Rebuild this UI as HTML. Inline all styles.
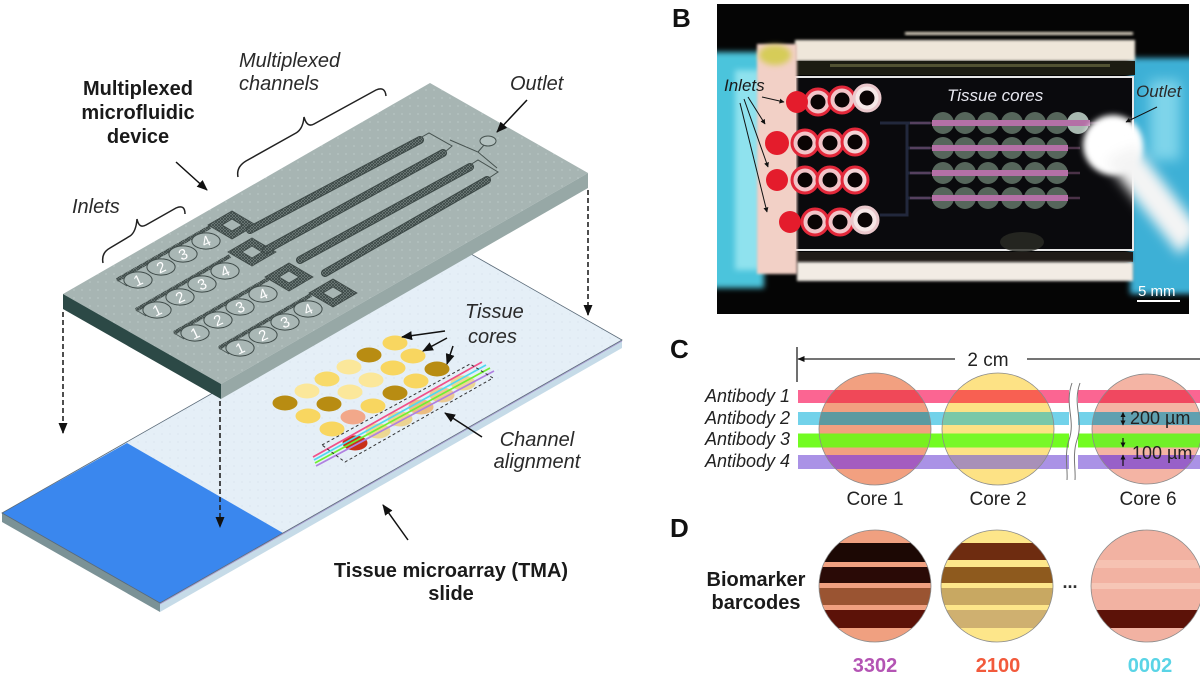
<!DOCTYPE html>
<html><head><meta charset="utf-8">
<style>
html,body{margin:0;padding:0;background:#fff;}
svg{display:block;}
text{font-family:"Liberation Sans",Arial,sans-serif;}
</style></head><body>
<svg width="1200" height="675" viewBox="0 0 1200 675" xmlns="http://www.w3.org/2000/svg">
<defs>
<marker id="ah" markerUnits="userSpaceOnUse" markerWidth="11" markerHeight="9" refX="10" refY="4.5" orient="auto"><path d="M0,0 L11,4.5 L0,9 z" fill="#111"/></marker>
<marker id="ahs" markerUnits="userSpaceOnUse" markerWidth="7" markerHeight="6" refX="6.5" refY="3" orient="auto"><path d="M0,0 L7,3 L0,6 z" fill="#111"/></marker>
<marker id="aht" markerUnits="userSpaceOnUse" markerWidth="5" markerHeight="5" refX="4.5" refY="2.5" orient="auto"><path d="M0,0 L5,2.5 L0,5 z" fill="#111"/></marker>
<pattern id="hx" patternUnits="userSpaceOnUse" width="3" height="3"><rect width="3" height="3" fill="#7f8c8a"/><path d="M0,0L3,3M3,0L0,3" stroke="#3a4644" stroke-width="0.8"/></pattern>
<pattern id="dots" patternUnits="userSpaceOnUse" width="8" height="8"><circle cx="2" cy="2" r="0.5" fill="#d8e4e4"/></pattern>
<pattern id="sdots" patternUnits="userSpaceOnUse" width="8" height="8"><circle cx="2" cy="2" r="0.5" fill="#c8d6e2"/></pattern>
<filter id="b1" x="-50%" y="-50%" width="200%" height="200%"><feGaussianBlur stdDeviation="1.2"/></filter>
<filter id="b3" x="-50%" y="-50%" width="200%" height="200%"><feGaussianBlur stdDeviation="3"/></filter>
<filter id="b6" x="-50%" y="-50%" width="200%" height="200%"><feGaussianBlur stdDeviation="6"/></filter>
<clipPath id="bclip"><rect x="717" y="4" width="472" height="310"/></clipPath>
<clipPath id="cc1"><circle cx="875" cy="429" r="56"/></clipPath>
<clipPath id="cc2"><circle cx="998" cy="429" r="56"/></clipPath>
<clipPath id="cc6"><circle cx="1147" cy="429" r="55"/></clipPath>
<clipPath id="dc1"><circle cx="875" cy="586" r="56"/></clipPath>
<clipPath id="dc2"><circle cx="997" cy="586" r="56"/></clipPath>
<clipPath id="dc3"><circle cx="1147" cy="586" r="56"/></clipPath>
</defs>

<rect width="1200" height="675" fill="#fff"/>

<!-- ================= PANEL A ================= -->
<!-- Slide -->
<polygon points="2,513 464,250 622,340 160,603" fill="#e5eff7"/>
<polygon points="2,513 464,250 622,340 160,603" fill="url(#sdots)"/>
<polygon points="2,513 127,443 283,533 160,603" fill="#3a87ee"/>
<polygon points="2,513 160,603 160,612 2,522" fill="#7b9296"/>
<polygon points="160,603 622,340 622,348 160,612" fill="#c6dbe8"/>
<line x1="160" y1="604" x2="622" y2="341" stroke="#a99ad0" stroke-width="0.8"/>
<polygon points="2,513 464,250 622,340 160,603" fill="none" stroke="#5a6a78" stroke-width="0.8"/>

<!-- tissue cores -->
<g>
<ellipse cx="395" cy="343" rx="12.5" ry="7.5" fill="#f8d660"/>
<ellipse cx="369" cy="355" rx="12.5" ry="7.5" fill="#b88c12"/>
<ellipse cx="413" cy="356" rx="12.5" ry="7.5" fill="#f8d660"/>
<ellipse cx="349" cy="367" rx="12.5" ry="7.5" fill="#fbe79a"/>
<ellipse cx="393" cy="368" rx="12.5" ry="7.5" fill="#f8d660"/>
<ellipse cx="437" cy="369" rx="12.5" ry="7.5" fill="#b88c12"/>
<ellipse cx="327" cy="379" rx="12.5" ry="7.5" fill="#f8da6a"/>
<ellipse cx="371" cy="380" rx="12.5" ry="7.5" fill="#fbe79a"/>
<ellipse cx="416" cy="381" rx="12.5" ry="7.5" fill="#f8d660"/>
<ellipse cx="307" cy="391" rx="12.5" ry="7.5" fill="#fbe79a"/>
<ellipse cx="350" cy="392" rx="12.5" ry="7.5" fill="#fbe79a"/>
<ellipse cx="395" cy="393" rx="12.5" ry="7.5" fill="#b88c12"/>
<ellipse cx="285" cy="403" rx="12.5" ry="7.5" fill="#b88c12"/>
<ellipse cx="329" cy="404" rx="12.5" ry="7.5" fill="#b88c12"/>
<ellipse cx="373" cy="406" rx="12.5" ry="7.5" fill="#f8d660"/>
<ellipse cx="308" cy="416" rx="12.5" ry="7.5" fill="#f8d660"/>
<ellipse cx="353" cy="417" rx="12.5" ry="7.5" fill="#f2a88a"/>
<ellipse cx="332" cy="429" rx="12.5" ry="7.5" fill="#f8d660"/>
<ellipse cx="378" cy="431" rx="12.5" ry="7.5" fill="#f0c850" opacity="0.6"/>
<ellipse cx="400" cy="419" rx="12.5" ry="7.5" fill="#f0c050" opacity="0.6"/>
<ellipse cx="421" cy="407" rx="12.5" ry="7.5" fill="#f0a850" opacity="0.7"/>
<ellipse cx="442" cy="395" rx="12.5" ry="7.5" fill="#f0b050" opacity="0.6"/>
<ellipse cx="463" cy="383" rx="12.5" ry="7.5" fill="#f0c850" opacity="0.6"/>
<ellipse cx="355" cy="443" rx="12.5" ry="7.5" fill="#c83018"/>
</g>
<!-- channel stripes -->
<g stroke-width="1.7">
<line x1="313" y1="457" x2="482" y2="362" stroke="#f0508a"/>
<line x1="314" y1="460" x2="486" y2="365" stroke="#50d8f0"/>
<line x1="315" y1="463" x2="490" y2="368" stroke="#70f030"/>
<line x1="316" y1="466" x2="494" y2="371" stroke="#b080e0"/>
</g>
<polygon points="322,445 470,364 493,378 345,462" fill="none" stroke="#333" stroke-width="1" stroke-dasharray="3,2.5"/>

<!-- Device -->
<polygon points="63,294 430,83 588,173 221,384" fill="#a7b5b3"/>
<polygon points="63,294 430,83 588,173 221,384" fill="url(#dots)"/>
<polygon points="63,294 221,384 221,399 63,309" fill="#2c4946"/>
<polygon points="221,384 588,173 588,188 221,399" fill="#97a8a6"/>

<!-- row channels behind inlets -->
<g stroke="url(#hx)" stroke-width="4" fill="none">
<line x1="117" y1="280" x2="210" y2="227"/>
<line x1="136" y1="310" x2="230" y2="256"/>
<line x1="174" y1="333" x2="268" y2="279"/>
<line x1="219" y1="348" x2="311" y2="295"/>
</g>
<g stroke="#4b5755" stroke-width="0.8" fill="none">
<polyline points="127,286 117,280 210,227"/>
<polyline points="146,316 136,310 230,256"/>
<polyline points="184,339 174,333 268,279"/>
<polyline points="229,354 219,348 311,295"/>
</g>

<!-- mixers -->
<g stroke="#3d4846" stroke-width="0.8">
<polygon points="208,225 232,211 256,225 232,239" fill="url(#hx)"/>
<polygon points="222,225 232,219 242,225 232,231" fill="#a7b5b3"/>
<polygon points="228,252 252,238 276,252 252,266" fill="url(#hx)"/>
<polygon points="242,252 252,246 262,252 252,258" fill="#a7b5b3"/>
<polygon points="265,277 289,263 313,277 289,291" fill="url(#hx)"/>
<polygon points="279,277 289,271 299,277 289,283" fill="#a7b5b3"/>
<polygon points="309,293 333,279 357,293 333,307" fill="url(#hx)"/>
<polygon points="323,293 333,287 343,293 333,299" fill="#a7b5b3"/>
</g>

<!-- long channels -->
<g fill="none" stroke-linecap="round">
<g stroke="#3c4846" stroke-width="8">
<line x1="250" y1="230" x2="420" y2="140"/>
<line x1="266" y1="250" x2="443" y2="153"/>
<line x1="300" y1="260" x2="470" y2="167"/>
<line x1="325" y1="273" x2="487" y2="180"/>
</g>
<g stroke="url(#hx)" stroke-width="6">
<line x1="250" y1="230" x2="420" y2="140"/>
<line x1="266" y1="250" x2="443" y2="153"/>
<line x1="300" y1="260" x2="470" y2="167"/>
<line x1="325" y1="273" x2="487" y2="180"/>
</g>
</g>
<!-- manifold + outlet -->
<g fill="none" stroke="#46524f" stroke-width="1">
<polyline points="420,138 429,133 452,146 445,152"/>
<polyline points="470,165 478,160 498,172 489,178"/>
<polyline points="450,140 478,152 497,168"/>
<polyline points="478,152 484,145"/>
<ellipse cx="488" cy="141" rx="8" ry="5" fill="#b4c2c0"/>
</g>

<!-- inlets -->
<g fill="#a9b7b5" stroke="#3f4b49" stroke-width="1">
<g transform="matrix(0.868,-0.499,0.868,0.494,138,280)"><circle r="11.5" vector-effect="non-scaling-stroke"/></g>
<g transform="matrix(0.868,-0.499,0.868,0.494,161,267)"><circle r="11.5" vector-effect="non-scaling-stroke"/></g>
<g transform="matrix(0.868,-0.499,0.868,0.494,183,254)"><circle r="11.5" vector-effect="non-scaling-stroke"/></g>
<g transform="matrix(0.868,-0.499,0.868,0.494,206,241)"><circle r="11.5" vector-effect="non-scaling-stroke"/></g>
<g transform="matrix(0.868,-0.499,0.868,0.494,157,310)"><circle r="11.5" vector-effect="non-scaling-stroke"/></g>
<g transform="matrix(0.868,-0.499,0.868,0.494,180,297)"><circle r="11.5" vector-effect="non-scaling-stroke"/></g>
<g transform="matrix(0.868,-0.499,0.868,0.494,202,284)"><circle r="11.5" vector-effect="non-scaling-stroke"/></g>
<g transform="matrix(0.868,-0.499,0.868,0.494,225,271)"><circle r="11.5" vector-effect="non-scaling-stroke"/></g>
<g transform="matrix(0.868,-0.499,0.868,0.494,195,333)"><circle r="11.5" vector-effect="non-scaling-stroke"/></g>
<g transform="matrix(0.868,-0.499,0.868,0.494,218,320)"><circle r="11.5" vector-effect="non-scaling-stroke"/></g>
<g transform="matrix(0.868,-0.499,0.868,0.494,240,307)"><circle r="11.5" vector-effect="non-scaling-stroke"/></g>
<g transform="matrix(0.868,-0.499,0.868,0.494,263,294)"><circle r="11.5" vector-effect="non-scaling-stroke"/></g>
<g transform="matrix(0.868,-0.499,0.868,0.494,240,348)"><circle r="11.5" vector-effect="non-scaling-stroke"/></g>
<g transform="matrix(0.868,-0.499,0.868,0.494,263,335)"><circle r="11.5" vector-effect="non-scaling-stroke"/></g>
<g transform="matrix(0.868,-0.499,0.868,0.494,285,322)"><circle r="11.5" vector-effect="non-scaling-stroke"/></g>
<g transform="matrix(0.868,-0.499,0.868,0.494,308,309)"><circle r="11.5" vector-effect="non-scaling-stroke"/></g>
</g>
<g fill="#ffffff" font-size="15" text-anchor="middle">
<text transform="translate(138,280) rotate(-25)" y="5.5">1</text>
<text transform="translate(161,267) rotate(-25)" y="5.5">2</text>
<text transform="translate(183,254) rotate(-25)" y="5.5">3</text>
<text transform="translate(206,241) rotate(-25)" y="5.5">4</text>
<text transform="translate(157,310) rotate(-25)" y="5.5">1</text>
<text transform="translate(180,297) rotate(-25)" y="5.5">2</text>
<text transform="translate(202,284) rotate(-25)" y="5.5">3</text>
<text transform="translate(225,271) rotate(-25)" y="5.5">4</text>
<text transform="translate(195,333) rotate(-25)" y="5.5">1</text>
<text transform="translate(218,320) rotate(-25)" y="5.5">2</text>
<text transform="translate(240,307) rotate(-25)" y="5.5">3</text>
<text transform="translate(263,294) rotate(-25)" y="5.5">4</text>
<text transform="translate(240,348) rotate(-25)" y="5.5">1</text>
<text transform="translate(263,335) rotate(-25)" y="5.5">2</text>
<text transform="translate(285,322) rotate(-25)" y="5.5">3</text>
<text transform="translate(308,309) rotate(-25)" y="5.5">4</text>
</g>

<!-- dashed arrows -->
<g stroke="#222" stroke-width="1.6" stroke-dasharray="5,3" fill="none">
<line x1="63" y1="312" x2="63" y2="433" marker-end="url(#ah)"/>
<line x1="220" y1="401" x2="220" y2="527" marker-end="url(#ah)"/>
<line x1="588" y1="190" x2="588" y2="315" marker-end="url(#ah)"/>
</g>

<!-- braces -->
<g fill="none" stroke="#222" stroke-width="1.5">
<path d="M238,177 Q236,167 246,161 L296,133 Q303,129 304,117 Q307,128 314,124 L376,90 Q385,86 386,96"/>
<path d="M103,263 Q101,253 110,248 L130,236 Q136,232 137,219 Q139,229 146,225 L176,208 Q185,204 185,214"/>
</g>

<!-- arrows -->
<g stroke="#111" stroke-width="1.5" fill="none">
<line x1="176" y1="162" x2="207" y2="190" marker-end="url(#ah)"/>
<line x1="527" y1="100" x2="497" y2="132" marker-end="url(#ah)"/>
<line x1="445" y1="331" x2="402" y2="337" marker-end="url(#ah)"/>
<line x1="447" y1="338" x2="423" y2="351" marker-end="url(#ah)"/>
<line x1="453" y1="346" x2="447" y2="364" marker-end="url(#ah)"/>
<line x1="482" y1="437" x2="445" y2="413" marker-end="url(#ah)"/>
<line x1="408" y1="540" x2="383" y2="505" marker-end="url(#ah)"/>
</g>

<!-- labels panel A -->
<g fill="#1a1a1a" font-weight="bold" font-size="20" text-anchor="middle">
<text x="138" y="95">Multiplexed</text>
<text x="138" y="119">microfluidic</text>
<text x="138" y="143">device</text>
<text x="451" y="577">Tissue microarray (TMA)</text>
<text x="451" y="600">slide</text>
</g>
<g fill="#2a2a2a" font-style="italic" font-size="20">
<text x="239" y="67">Multiplexed</text>
<text x="239" y="90">channels</text>
<text x="510" y="90">Outlet</text>
<text x="72" y="213">Inlets</text>
<text x="465" y="318">Tissue</text>
<text x="468" y="343">cores</text>
<text x="537" y="446" text-anchor="middle">Channel</text>
<text x="537" y="468" text-anchor="middle">alignment</text>
</g>

<!-- ================= PANEL B ================= -->
<text x="672" y="27" font-size="26" font-weight="bold" fill="#111">B</text>
<g clip-path="url(#bclip)">
<rect x="717" y="4" width="472" height="310" fill="#050505"/>
<!-- cyan glows -->
<rect x="700" y="52" width="64" height="236" fill="#4cc4dc" filter="url(#b3)"/>
<rect x="735" y="70" width="25" height="200" fill="#8fe2ee" filter="url(#b3)"/>
<rect x="1130" y="58" width="75" height="236" fill="#3eb0d6" filter="url(#b3)"/>
<rect x="1150" y="80" width="30" height="80" fill="#7ed4ea" filter="url(#b6)"/>
<!-- top rail -->
<rect x="905" y="32" width="228" height="3" fill="#d8d0c0" filter="url(#b1)"/>
<rect x="795" y="40" width="340" height="21" fill="#efe7da" filter="url(#b1)"/>
<rect x="795" y="61" width="340" height="14" fill="#1c1c12"/>
<rect x="830" y="64" width="280" height="3" fill="#6a6a40" opacity="0.7"/>
<!-- chip interior -->
<rect x="795" y="77" width="338" height="173" fill="#0a0a0d" stroke="#e8e8e8" stroke-width="2"/>
<!-- bottom rail -->
<rect x="797" y="252" width="336" height="10" fill="#201c18"/>
<rect x="797" y="262" width="336" height="19" fill="#f2ece4" filter="url(#b1)"/>
<!-- faint channel structures -->
<g stroke="#283048" stroke-width="3" fill="none" opacity="0.8">
<polyline points="880,123 907,123 907,215 880,215"/>
<line x1="907" y1="148" x2="930" y2="148"/>
<line x1="907" y1="173" x2="930" y2="173"/>
<line x1="907" y1="198" x2="930" y2="198"/>
<line x1="907" y1="123" x2="930" y2="123"/>
</g>
<!-- pink inlet strip -->
<rect x="757" y="44" width="40" height="230" fill="#f2d0c6" filter="url(#b1)"/>
<ellipse cx="775" cy="55" rx="16" ry="10" fill="#d6cc58" filter="url(#b3)"/>
<!-- rings -->
<g stroke="#e2283a" stroke-width="3">
<circle cx="818" cy="102" r="13" fill="#f2c4c8"/>
<circle cx="842" cy="100" r="13" fill="#f2c4c8"/>
<circle cx="867" cy="98" r="13" fill="#f6e8e8" stroke="#eac8cc"/>
<circle cx="805" cy="143" r="13" fill="#f2c4c8"/>
<circle cx="830" cy="143" r="13" fill="#f2c4c8"/>
<circle cx="855" cy="142" r="13" fill="#f4d4d6"/>
<circle cx="805" cy="180" r="13" fill="#f2c4c8"/>
<circle cx="830" cy="180" r="13" fill="#f2c4c8"/>
<circle cx="855" cy="180" r="13" fill="#f4d4d6"/>
<circle cx="815" cy="222" r="13" fill="#f2c4c8"/>
<circle cx="840" cy="222" r="13" fill="#f2c4c8"/>
<circle cx="865" cy="220" r="13" fill="#f6e6e6" stroke="#eac8cc"/>
</g>
<g fill="#0a0404">
<circle cx="818" cy="102" r="7.5"/><circle cx="842" cy="100" r="7.5"/><circle cx="867" cy="98" r="7.5"/>
<circle cx="805" cy="143" r="7.5"/><circle cx="830" cy="143" r="7.5"/><circle cx="855" cy="142" r="7.5"/>
<circle cx="805" cy="180" r="7.5"/><circle cx="830" cy="180" r="7.5"/><circle cx="855" cy="180" r="7.5"/>
<circle cx="815" cy="222" r="7.5"/><circle cx="840" cy="222" r="7.5"/><circle cx="865" cy="220" r="7.5"/>
</g>
<g fill="#e41c2c">
<circle cx="797" cy="102" r="11"/>
<circle cx="777" cy="143" r="12"/>
<circle cx="777" cy="180" r="11"/>
<circle cx="790" cy="222" r="11"/>
</g>
<!-- tissue cores -->
<g stroke="#8a5a82" stroke-width="2.5" opacity="0.5">
<line x1="910" y1="123" x2="1100" y2="123"/>
<line x1="910" y1="148" x2="1080" y2="148"/>
<line x1="910" y1="173" x2="1080" y2="173"/>
<line x1="910" y1="198" x2="1080" y2="198"/>
</g>
<g fill="#56665b">
<circle cx="943" cy="123" r="11"/><circle cx="965" cy="123" r="11"/><circle cx="988" cy="123" r="11"/><circle cx="1012" cy="123" r="11"/><circle cx="1035" cy="123" r="11"/><circle cx="1057" cy="123" r="11"/><circle cx="1078" cy="123" r="11" fill="#a8b8b0"/>
<circle cx="943" cy="148" r="11"/><circle cx="965" cy="148" r="11"/><circle cx="988" cy="148" r="11"/><circle cx="1012" cy="148" r="11"/><circle cx="1035" cy="148" r="11"/><circle cx="1057" cy="148" r="11"/>
<circle cx="943" cy="173" r="11"/><circle cx="965" cy="173" r="11"/><circle cx="988" cy="173" r="11"/><circle cx="1012" cy="173" r="11"/><circle cx="1035" cy="173" r="11"/><circle cx="1057" cy="173" r="11"/>
<circle cx="943" cy="198" r="11"/><circle cx="965" cy="198" r="11"/><circle cx="988" cy="198" r="11"/><circle cx="1012" cy="198" r="11"/><circle cx="1035" cy="198" r="11"/><circle cx="1057" cy="198" r="11"/>
</g>
<g fill="#b470a6">
<rect x="932" y="120" width="158" height="6"/>
<rect x="932" y="145" width="136" height="6"/>
<rect x="932" y="170" width="136" height="6"/>
<rect x="932" y="195" width="136" height="6"/>
</g>
<!-- bottom bubbles -->
<ellipse cx="1022" cy="242" rx="22" ry="10" fill="#2a2c26" opacity="0.8"/>
<!-- outlet glare -->
<circle cx="1113" cy="145" r="30" fill="#ffffff" filter="url(#b3)"/>
<polygon points="1105,160 1135,145 1200,230 1180,255" fill="#f4f4f4" filter="url(#b6)"/>
<!-- photo arrows -->
<g stroke="#111" stroke-width="1" fill="none">
<line x1="762" y1="97" x2="784" y2="102" marker-end="url(#aht)"/>
<line x1="748" y1="97" x2="765" y2="124" marker-end="url(#aht)"/>
<line x1="744" y1="99" x2="768" y2="167" marker-end="url(#aht)"/>
<line x1="740" y1="103" x2="767" y2="212" marker-end="url(#aht)"/>
<line x1="1157" y1="107" x2="1126" y2="122" marker-end="url(#aht)"/>
</g>
<g font-style="italic" font-size="17">
<text x="724" y="91" fill="#1a1a1a">Inlets</text>
<text x="947" y="101" fill="#e8e8f0">Tissue cores</text>
<text x="1136" y="97" fill="#2a2a2a">Outlet</text>
</g>
<text x="1138" y="296" font-size="15" fill="#ffffff">5 mm</text>
<line x1="1137" y1="301" x2="1180" y2="301" stroke="#fff" stroke-width="2"/>
</g>

<!-- ================= PANEL C ================= -->
<text x="670" y="358" font-size="26" font-weight="bold" fill="#111">C</text>
<line x1="797" y1="347" x2="797" y2="382" stroke="#222" stroke-width="1.3"/>
<line x1="955" y1="359" x2="798" y2="359" stroke="#222" stroke-width="1.3" marker-end="url(#ahs)"/>
<line x1="1027" y1="359" x2="1200" y2="359" stroke="#222" stroke-width="1.3"/>
<text x="988" y="366" font-size="19" fill="#222" text-anchor="middle">2 cm</text>

<rect x="798" y="390" width="402" height="13" fill="#fb6592"/>
<rect x="798" y="412" width="402" height="13" fill="#72d2ea"/>
<rect x="798" y="433.5" width="402" height="14" fill="#72fc22"/>
<rect x="798" y="455" width="402" height="14" fill="#aa92e6"/>

<g clip-path="url(#cc1)">
<rect x="815" y="370" width="120" height="120" fill="#f2a080"/>
<rect x="815" y="390" width="120" height="13" fill="#f04858"/>
<rect x="815" y="412" width="120" height="13" fill="#5c9aa0"/>
<rect x="815" y="433.5" width="120" height="14" fill="#78f020"/>
<rect x="815" y="455" width="120" height="14" fill="#a45cc0"/>
</g>
<circle cx="875" cy="429" r="56" fill="none" stroke="#8a8a8a" stroke-width="0.8"/>
<g clip-path="url(#cc2)">
<rect x="938" y="370" width="120" height="120" fill="#fde285"/>
<rect x="938" y="390" width="120" height="13" fill="#f86052"/>
<rect x="938" y="412" width="120" height="13" fill="#7ac8a8"/>
<rect x="938" y="433.5" width="120" height="14" fill="#78f828"/>
<rect x="938" y="455" width="120" height="14" fill="#a890b8"/>
</g>
<circle cx="998" cy="429" r="56" fill="none" stroke="#8a8a8a" stroke-width="0.8"/>
<g clip-path="url(#cc6)">
<rect x="1088" y="370" width="120" height="120" fill="#f4b4a4"/>
<rect x="1088" y="390" width="120" height="13" fill="#f04860"/>
<rect x="1088" y="412" width="120" height="13" fill="#60a0b0"/>
<rect x="1088" y="433.5" width="120" height="14" fill="#70f028"/>
<rect x="1088" y="455" width="120" height="14" fill="#9860c8"/>
</g>
<circle cx="1147" cy="429" r="55" fill="none" stroke="#8a8a8a" stroke-width="0.8"/>

<!-- break -->
<rect x="1069" y="385" width="9" height="88" fill="#fff"/>
<g fill="none" stroke="#777" stroke-width="1">
<path d="M1072,383 C1064,405 1076,420 1069,440 C1064,455 1068,470 1067,480"/>
<path d="M1080,383 C1072,405 1084,420 1077,440 C1072,455 1076,470 1075,480"/>
</g>

<!-- dimension marks -->
<g stroke="#111" stroke-width="1.2" fill="none">
<line x1="1123" y1="419" x2="1123" y2="412.5" marker-end="url(#aht)"/>
<line x1="1123" y1="418" x2="1123" y2="425" marker-end="url(#aht)"/>
<line x1="1123" y1="438" x2="1123" y2="447" marker-end="url(#aht)"/>
<line x1="1123" y1="466" x2="1123" y2="455" marker-end="url(#aht)"/>
</g>
<g font-size="18" fill="#222">
<text x="1130" y="424">200 µm</text>
<text x="1132" y="459">100 µm</text>
</g>

<g font-style="italic" font-size="18" fill="#222" text-anchor="end">
<text x="790" y="402">Antibody 1</text>
<text x="790" y="424">Antibody 2</text>
<text x="790" y="445">Antibody 3</text>
<text x="790" y="467">Antibody 4</text>
</g>
<g font-size="19" fill="#222" text-anchor="middle">
<text x="875" y="505">Core 1</text>
<text x="998" y="505">Core 2</text>
<text x="1148" y="505">Core 6</text>
</g>

<!-- ================= PANEL D ================= -->
<text x="670" y="537" font-size="26" font-weight="bold" fill="#111">D</text>
<g font-weight="bold" font-size="20" fill="#1a1a1a" text-anchor="middle">
<text x="756" y="586">Biomarker</text>
<text x="756" y="609">barcodes</text>
</g>
<g clip-path="url(#dc1)">
<rect x="815" y="526" width="122" height="122" fill="#f0a080"/>
<rect x="815" y="543" width="122" height="19" fill="#1c0804"/>
<rect x="815" y="567" width="122" height="16" fill="#2a0a06"/>
<rect x="815" y="588" width="122" height="17" fill="#9a5432"/>
<rect x="815" y="610" width="122" height="18" fill="#5c1208"/>
</g>
<circle cx="875" cy="586" r="56" fill="none" stroke="#8a8a8a" stroke-width="0.8"/>
<g clip-path="url(#dc2)">
<rect x="937" y="526" width="122" height="122" fill="#fde68a"/>
<rect x="937" y="543" width="122" height="17" fill="#6e2c10"/>
<rect x="937" y="567" width="122" height="16" fill="#8e5a1e"/>
<rect x="937" y="588" width="122" height="17" fill="#c8a862"/>
<rect x="937" y="610" width="122" height="18" fill="#cfb070"/>
</g>
<circle cx="997" cy="586" r="56" fill="none" stroke="#8a8a8a" stroke-width="0.8"/>
<g clip-path="url(#dc3)">
<rect x="1087" y="526" width="122" height="122" fill="#f2b2a2"/>
<rect x="1087" y="560" width="122" height="8" fill="#f6c2b2"/>
<rect x="1087" y="583" width="122" height="6" fill="#f6c6b6"/>
<rect x="1087" y="610" width="122" height="18" fill="#5c1208"/>
</g>
<circle cx="1147" cy="586" r="56" fill="none" stroke="#8a8a8a" stroke-width="0.8"/>
<text x="1070" y="588" font-size="18" font-weight="bold" fill="#333" text-anchor="middle">...</text>
<g font-weight="bold" font-size="20" text-anchor="middle">
<text x="875" y="672" fill="#b454b4">3302</text>
<text x="998" y="672" fill="#f25a3c">2100</text>
<text x="1150" y="672" fill="#5ad4e6">0002</text>
</g>
</svg>
</body></html>
